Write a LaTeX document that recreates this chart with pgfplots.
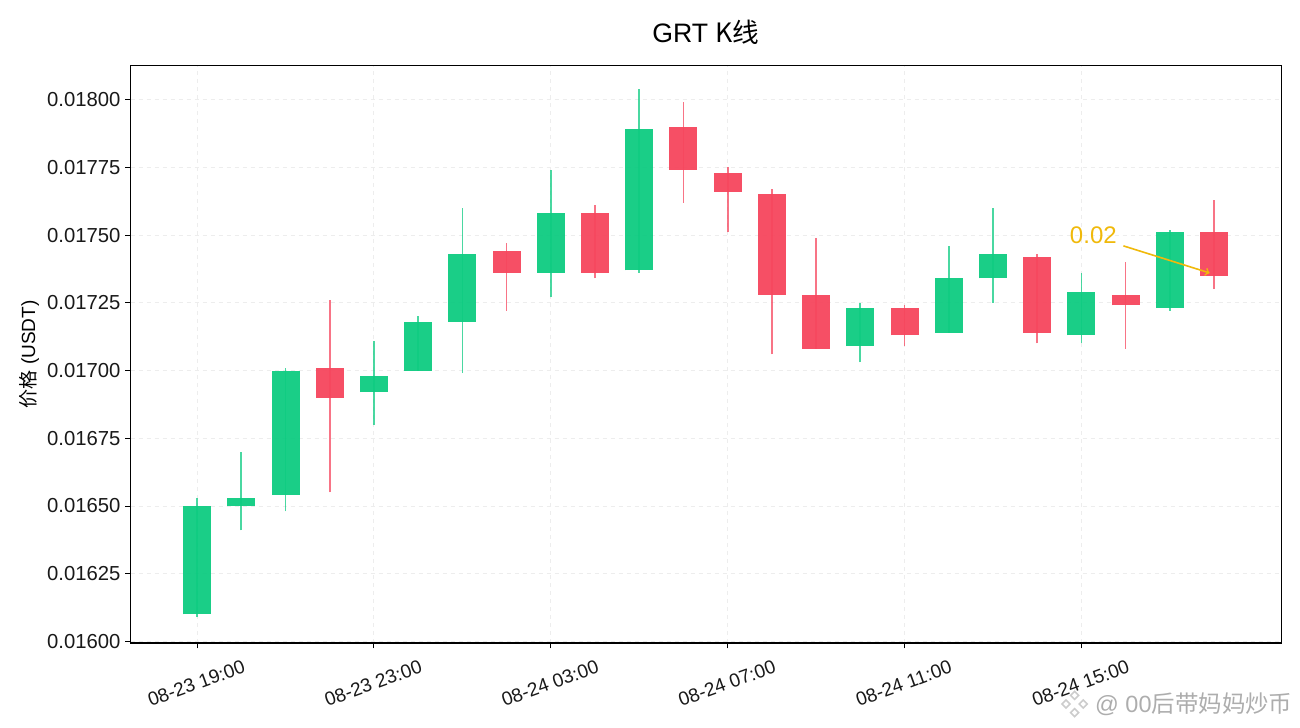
\documentclass[border=0pt]{standalone}
\usepackage{fontspec}
\usepackage{pgfplots}
\usepackage{pgfplotstable}
\pgfplotsset{compat=1.18}
\setmainfont{Liberation Sans}
\newfontfamily\cjk{Noto Sans CJK SC}

\definecolor{upgreen}{HTML}{0ECB81}
\definecolor{downred}{HTML}{F6465D}
\definecolor{gold}{HTML}{F0B90B}

% x  bottom  top  low  high
\pgfplotstableread{
x bottom top low high
0 0.01610 0.01650 0.01609 0.01653
1 0.01650 0.01653 0.01641 0.01670
2 0.01654 0.01700 0.01648 0.01701
4 0.01692 0.01698 0.01680 0.01711
5 0.01700 0.01718 0.01700 0.01720
6 0.01718 0.01743 0.01699 0.01760
8 0.01736 0.01758 0.01727 0.01774
10 0.01737 0.01789 0.01736 0.01804
15 0.01709 0.01723 0.01703 0.01725
17 0.01714 0.01734 0.01714 0.01746
18 0.01734 0.01743 0.01725 0.01760
20 0.01713 0.01729 0.01710 0.01736
22 0.01723 0.01751 0.01722 0.01752
}\upcandles
\pgfplotstableread{
x bottom top low high
3 0.01690 0.01701 0.01655 0.01726
7 0.01736 0.01744 0.01722 0.01747
9 0.01736 0.01758 0.01734 0.01761
11 0.01774 0.01790 0.01762 0.01799
12 0.01766 0.01773 0.01751 0.01775
13 0.01728 0.01765 0.01706 0.01767
14 0.01708 0.01728 0.01708 0.01749
16 0.01713 0.01723 0.01709 0.01724
19 0.01714 0.01742 0.01710 0.01743
21 0.01724 0.01728 0.01708 0.01740
23 0.01735 0.01751 0.01730 0.01763
}\downcandles

\pgfplotsset{
  wick/.style={forget plot, draw=none, mark=none,
    error bars/.cd, y dir=both, y explicit, error mark=none,
    error bar style={line width=1.3pt, color=#1, opacity=0.75}},
  body/.style={forget plot, draw=none, mark=none,
    error bars/.cd, y dir=plus, y explicit, error mark=none,
    error bar style={line width=21pt, color=#1, opacity=0.95}},
}

\begin{document}
\begin{tikzpicture}
\path[use as bounding box] (0,0) rectangle (975pt,546pt);
\begin{axis}[
  at={(97.9pt,63.75pt)}, anchor=south west,
  scale only axis,
  width=863.2pt, height=433.1pt,
  xmin=-1.505, xmax=24.525,
  ymin=0.0159945, ymax=0.0181255,
  xtick={0,4,8,12,16,20},
  xticklabels={08-23 19:00,08-23 23:00,08-24 03:00,08-24 07:00,08-24 11:00,08-24 15:00},
  ytick={0.016,0.01625,0.0165,0.01675,0.017,0.01725,0.0175,0.01775,0.018},
  scaled y ticks=false,
  yticklabel style={/pgf/number format/fixed, /pgf/number format/fixed zerofill,
    /pgf/number format/precision=5, /pgf/number format/assume math mode=true,
    font=\fontsize{15.2pt}{17pt}\selectfont, text=black!90},
  xticklabel style={rotate=20, anchor=center, yshift=-24.5pt, xshift=-9.5pt,
    font=\fontsize{14.3pt}{16pt}\selectfont, text=black!90},
  xtick pos=bottom, ytick pos=left,
  tick align=outside,
  major tick length=4pt,
  tick style={black, line width=0.75pt},
  axis line style={black, line width=1pt},
  grid=major,
  grid style={dashed, line width=0.75pt, color=black!7},
  title={GRT {\cjk K线}},
  title style={font=\fontsize{20pt}{24pt}\selectfont, at={(axis description cs:0.5,1)}, anchor=south, yshift=6pt},
  ylabel={{\cjk 价格} (USDT)},
  ylabel style={font=\fontsize{14.3pt}{16pt}\selectfont, at={(axis description cs:0,0.5)}, anchor=south, yshift=65pt},
  clip=true,
]
\addplot[wick=upgreen] table[x=x, y=low, y error plus expr=\thisrow{high}-\thisrow{low}, y error minus expr=0] {\upcandles};
\addplot[wick=downred] table[x=x, y=low, y error plus expr=\thisrow{high}-\thisrow{low}, y error minus expr=0] {\downcandles};
\addplot[body=upgreen] table[x=x, y=bottom, y error plus expr=\thisrow{top}-\thisrow{bottom}] {\upcandles};
\addplot[body=downred] table[x=x, y=bottom, y error plus expr=\thisrow{top}-\thisrow{bottom}] {\downcandles};
\draw[->, gold, line width=1.2pt] (axis cs:20.95,0.01746) -- (axis cs:22.9,0.01736);
\node[text=gold, font=\fontsize{18pt}{20pt}\selectfont] at (axis cs:20.27,0.0175) {0.02};
\end{axis}
% watermark in the lower right corner
\node[anchor=east, text=black!32, font=\fontsize{17.6pt}{20pt}\selectfont, inner sep=0pt] at (969.5pt,18pt) {@ 00{\cjk 后带妈妈炒币}};
\foreach \dx/\dy in {0/6.5,-6.5/0,6.5/0,0/-6.5}
  \draw[black!20, line width=1.2pt] ({806pt+\dx pt-3pt},{18pt+\dy pt}) -- ++(3pt,3pt) -- ++(3pt,-3pt) -- ++(-3pt,-3pt) -- cycle;
\end{tikzpicture}
\end{document}
